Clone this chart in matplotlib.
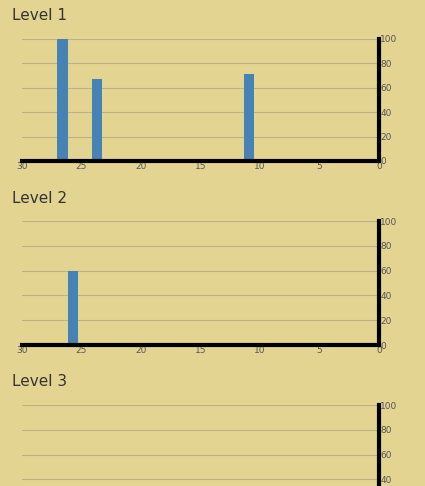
import matplotlib.pyplot as plt

# -------------------------------
# Data
# -------------------------------
levels = ["Level 1", "Level 2", "Level 3"]
level1_x = [26.6, 23.7, 10.9]
level1_h = [100, 67, 71]
level2_x = [25.7]
level2_h = [60]
level3_x = []
level3_h = []
x_ticks = [30, 25, 20, 15, 10, 5, 0]
y_ticks = [0, 20, 40, 60, 80, 100]

series = [(level1_x, level1_h), (level2_x, level2_h), (level3_x, level3_h)]

W, H = 425, 486
bg = "#E3D492"
fig = plt.figure(figsize=(W / 100, H / 100), dpi=100)
fig.patch.set_facecolor(bg)

# pixel positions (top of plot area, bottom of plot area)
panels = [(39, 161), (221, 345), (405, 529)]
left, right = 22, 379

for i, (name, (xs, hs), (top, bot)) in enumerate(zip(levels, series, panels)):
    ax = fig.add_axes([left / W, 1 - bot / H, (right - left) / W, (bot - top) / H])
    ax.set_facecolor(bg)
    ax.bar(xs, hs, width=0.85, color="#4682B4", zorder=2)
    ax.set_xlim(30, 0)
    ax.set_ylim(0, 100)
    ax.set_xticks(x_ticks)
    ax.set_yticks(y_ticks)
    ax.yaxis.tick_right()
    ax.grid(axis="y", color="#BDB185", linewidth=0.8, zorder=0)
    for s in ["top", "left"]:
        ax.spines[s].set_visible(False)
    ax.spines["bottom"].set_linewidth(3)
    ax.spines["right"].set_linewidth(3)
    ax.tick_params(axis="both", labelsize=6.5, colors="#555555", length=0, pad=1)
    if i == 2:
        # the last panel runs off the bottom of the picture
        ax.set_xticklabels([])
        ax.set_yticks([40, 60, 80, 100])
    fig.text(12 / W, 1 - (top - 23) / H, name, fontsize=11, color="#333333", va="center")

fig.savefig("out.png", dpi=100, facecolor=bg)
